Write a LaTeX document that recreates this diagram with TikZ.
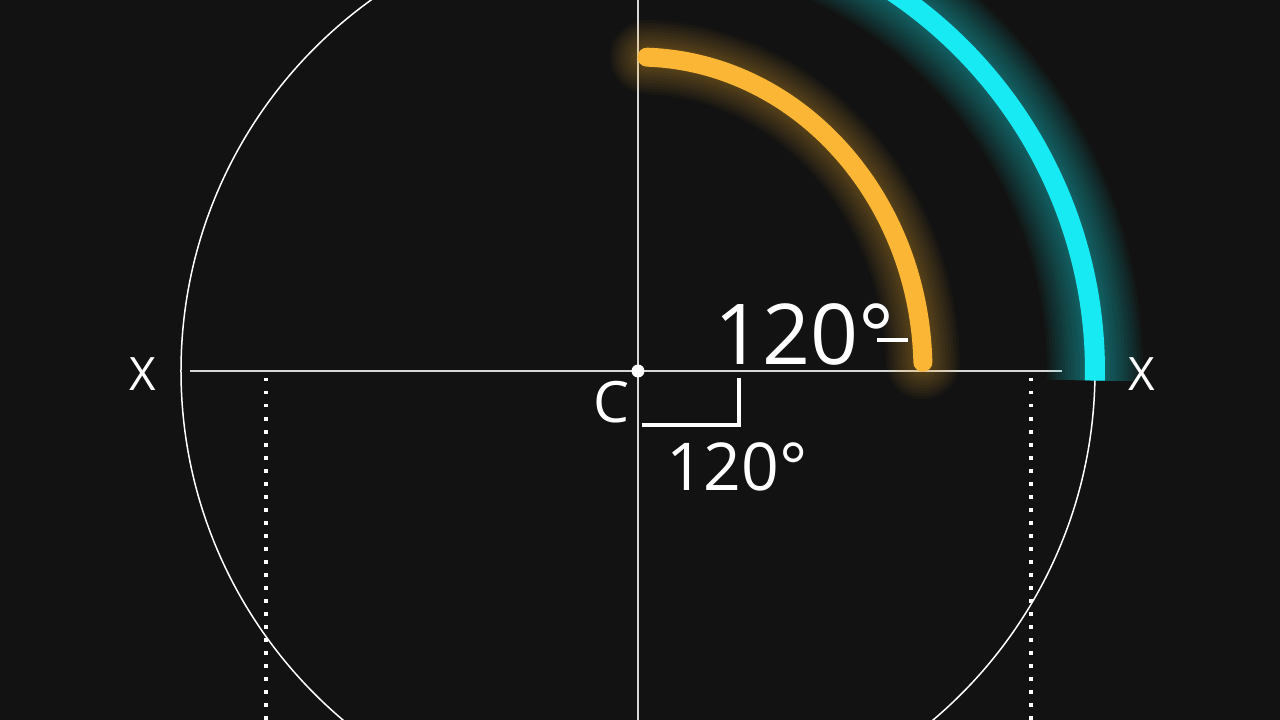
\documentclass[tikz,border=0pt]{standalone}
\usepackage{fontspec}
\setmainfont{Open Sans}
\usetikzlibrary{positioning}
\definecolor{bgcol}{RGB}{18,18,18}
\definecolor{arcorange}{RGB}{250,182,52}
\definecolor{arccyan}{RGB}{24,234,244}
\definecolor{linegray}{RGB}{215,215,215}
\newcommand\glowarc[4]{% options, core width, widest glow, path
  \foreach \k in {1.2,1.5,...,#3}{
    \pgfmathsetmacro\lw{\k*#2}
    \draw[#1, line width=\lw pt, opacity=0.035] #4;
  }
  \draw[#1, line width=#2pt] #4;
}

\begin{document}
\begin{tikzpicture}[x=1pt, y=1pt,
  thin line/.style={linegray, line width=1.8pt},
  dot line/.style={white, line width=3.5pt, dash pattern=on 3.5pt off 9.5pt},
  bigdeg/.style={text=white, inner sep=0pt, anchor=base west, font=\fontsize{84}{90}\selectfont},
  smalldeg/.style={text=white, inner sep=0pt, anchor=base west, font=\fontsize{66}{70}\selectfont},
  axislabel/.style={text=white, inner sep=0pt, font=\fontsize{46}{50}\selectfont}]
  % frame is (-638,-349) to (642,371), centre C at the origin
  \fill[bgcol] (-638,-349) rectangle (642,371);
  \useasboundingbox (-638,-349) rectangle (642,371);
  \clip (-638,-349) rectangle (642,371);

  \coordinate (C) at (0,0);

  % circle and axes
  \draw[white, line width=1.5pt] (C) circle[radius=457];
  \draw[thin line] (0,371) -- (0,-349);
  \draw[thin line] (-448,0) -- (424,0);

  % projection lines
  \draw[dot line] (-372,-7) -- (-372,-349);
  \draw[dot line] (393,-7) -- (393,-349);

  % glowing arcs
  \glowarc{arcorange, line cap=round}{19}{4.2}{(1.6:285 and 314) arc[start angle=1.6, end angle=88.2, x radius=285, y radius=314]}
  \glowarc{arccyan, line cap=butt}{20}{5.0}{(-1.2:457) arc[start angle=-1.2, end angle=90, radius=457]}

  % centre
  \fill[white] (C) circle[radius=6.5];
  \node[axislabel, font=\fontsize{57}{60}\selectfont] (c) at (-27,-31.5) {C};

  % axis labels
  \node[axislabel] (xl) at (-495,-3) {X};
  \node[axislabel] (xr) at (504,-3) {X};

  % angles
  \node[bigdeg] (upper) at (76,6) {120°};
  \draw[white, line width=3.5pt] (239,31) -- (270,31);
  \draw[white, line width=3.2pt] (4,-54) -- (101,-54) -- (101,-7);
  \node[smalldeg] (lower) at (28,-119) {120°};
\end{tikzpicture}
\end{document}
